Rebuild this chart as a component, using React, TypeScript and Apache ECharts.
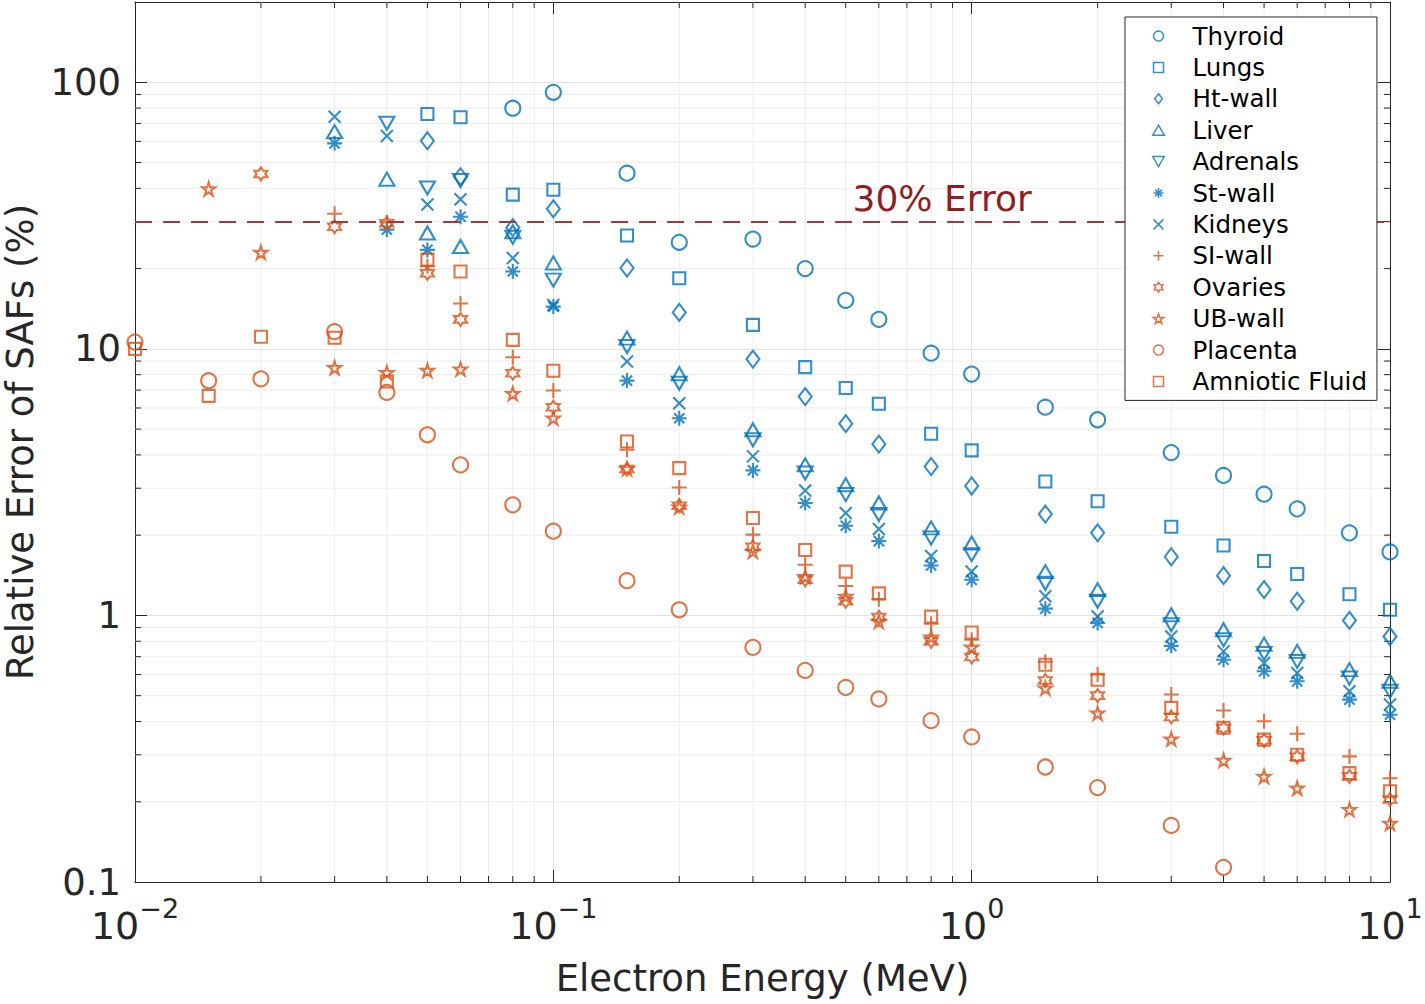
import React, { useEffect, useRef } from 'react';
import * as echarts from 'echarts';

// ---------- data ----------
const energies = [0.01, 0.015, 0.02, 0.03, 0.04, 0.05, 0.06, 0.08, 0.1, 0.15, 0.2, 0.3, 0.4, 0.5, 0.6, 0.8, 1, 1.5, 2, 3, 4, 5, 6, 8, 10];

const thyroid = [null, null, null, null, null, null, null, 79.9, 91.7, 45.6, 25.1, 25.8, 20.0, 15.2, 12.9, 9.63, 8.04, 6.04, 5.42, 4.08, 3.35, 2.85, 2.51, 2.04, 1.73];
const lungs = [null, null, null, null, null, 76.0, 73.9, 37.9, 39.5, 26.6, 18.4, 12.3, 8.54, 7.13, 6.22, 4.8, 4.16, 3.18, 2.68, 2.15, 1.83, 1.6, 1.43, 1.2, 1.05];
const htWall = [null, null, null, null, null, 60.3, 44.2, 28.5, 33.5, 20.1, 13.7, 9.15, 6.62, 5.24, 4.39, 3.62, 3.06, 2.4, 2.04, 1.66, 1.41, 1.25, 1.13, 0.958, 0.834];
const liver = [null, null, null, 65.3, 43.3, 27.2, 24.2, 27.5, 21.0, 10.97, 8.06, 4.97, 3.67, 3.09, 2.64, 2.13, 1.87, 1.46, 1.25, 1.006, 0.884, 0.78, 0.733, 0.626, 0.566];
const adrenals = [null, null, null, null, 70.2, 40.1, 42.8, 26.2, 18.1, 10.2, 7.43, 4.56, 3.42, 2.84, 2.39, 1.95, 1.69, 1.32, 1.13, 0.923, 0.81, 0.72, 0.672, 0.582, 0.519];
const stWall = [null, null, null, 59.0, 28.0, 23.5, 31.3, 19.5, 14.4, 7.6, 5.49, 3.5, 2.64, 2.17, 1.9, 1.54, 1.36, 1.06, 0.937, 0.769, 0.682, 0.617, 0.566, 0.483, 0.424];
const kidneys = [null, null, null, 74.3, 62.9, 34.8, 36.4, 21.9, 14.6, 8.96, 6.25, 3.95, 2.94, 2.42, 2.11, 1.67, 1.46, 1.18, 0.99, 0.834, 0.733, 0.663, 0.608, 0.519, 0.463];
const siWall = [null, null, null, 32.1, 29.8, 20.4, 14.8, 9.3, 6.98, 4.18, 3.02, 2.01, 1.55, 1.29, 1.15, 0.93, 0.81, 0.67, 0.6, 0.505, 0.44, 0.401, 0.36, 0.296, 0.245];
const ovaries = [null, null, 45.3, 28.7, 29.6, 19.2, 12.9, 8.1, 6.04, 3.54, 2.58, 1.81, 1.36, 1.13, 0.986, 0.8, 0.698, 0.57, 0.5, 0.416, 0.378, 0.34, 0.295, 0.249, 0.204];
const ubWall = [null, 39.8, 23.0, 8.5, 8.15, 8.3, 8.4, 6.8, 5.5, 3.55, 2.55, 1.74, 1.4, 1.18, 0.95, 0.83, 0.76, 0.534, 0.43, 0.344, 0.286, 0.249, 0.225, 0.187, 0.166];
const placenta = [10.6, 7.59, 7.72, 11.6, 6.86, 4.76, 3.67, 2.6, 2.07, 1.35, 1.05, 0.759, 0.622, 0.537, 0.486, 0.403, 0.35, 0.27, 0.226, 0.163, 0.1135, null, null, null, null];
const amniotic = [10.0, 6.66, 11.1, 11.0, 7.54, 21.6, 19.5, 10.8, 8.27, 4.49, 3.57, 2.32, 1.76, 1.46, 1.21, 0.99, 0.863, 0.653, 0.574, 0.45, 0.379, 0.342, 0.3, 0.256, 0.219];

const errorThreshold = 30;
const errorLabel = '30% Error';
const errorLabelEnergy = 0.85;

const yMinorTicks = [0.2, 0.3, 0.4, 0.5, 0.6, 0.7, 0.8, 0.9, 2, 3, 4, 5, 6, 7, 8, 9, 20, 30, 40, 50, 60, 70, 80, 90];
const xMinorTicks = [0.02, 0.03, 0.04, 0.05, 0.06, 0.07, 0.08, 0.09, 0.2, 0.3, 0.4, 0.5, 0.6, 0.7, 0.8, 0.9, 2, 3, 4, 5, 6, 7, 8, 9];

// ---------- styles ----------
const BLUE = '#0072BD';
const ORANGE = '#D95319';
const INK = '#262626';
const FONT = '"DejaVu Sans", sans-serif';

function starPath(n: number, rOuter: number, rInner: number) {
  const pts: string[] = [];
  for (let i = 0; i < 2 * n; i++) {
    const r = i % 2 === 0 ? rOuter : rInner;
    const a = -Math.PI / 2 + (i * Math.PI) / n;
    pts.push(`${(r * Math.cos(a) + rOuter).toFixed(3)},${(r * Math.sin(a) + rOuter).toFixed(3)}`);
  }
  return 'path://M' + pts.join('L') + 'Z';
}

const SYM = {
  square: 'path://M0,0L10,0L10,10L0,10Z',
  diamond: 'path://M5,0L10,6.5L5,13L0,6.5Z',
  triUp: 'path://M5,0L10,8.66L0,8.66Z',
  triDown: 'path://M0,0L10,0L5,8.66Z',
  asterisk: 'path://M5,0L5,10M0,5L10,5M1.6,1.6L8.4,8.4M8.4,1.6L1.6,8.4',
  cross: 'path://M0,0L10,10M10,0L0,10',
  plus: 'path://M5,0L5,10M0,5L10,5',
  hexagram: starPath(6, 5, 5 / Math.sqrt(3)),
  pentagram: starPath(5, 5, 5 * 0.382),
};

const seriesDefs = [
  { name: 'Thyroid', values: thyroid, color: BLUE, symbol: 'circle', size: 15 },
  { name: 'Lungs', values: lungs, color: BLUE, symbol: SYM.square, size: 12 },
  { name: 'Ht-wall', values: htWall, color: BLUE, symbol: SYM.diamond, size: [13, 17] },
  { name: 'Liver', values: liver, color: BLUE, symbol: SYM.triUp, size: [15, 13] },
  { name: 'Adrenals', values: adrenals, color: BLUE, symbol: SYM.triDown, size: [15, 13] },
  { name: 'St-wall', values: stWall, color: BLUE, symbol: SYM.asterisk, size: 15 },
  { name: 'Kidneys', values: kidneys, color: BLUE, symbol: SYM.cross, size: 12 },
  { name: 'SI-wall', values: siWall, color: ORANGE, symbol: SYM.plus, size: 15 },
  { name: 'Ovaries', values: ovaries, color: ORANGE, symbol: SYM.hexagram, size: 13 },
  { name: 'UB-wall', values: ubWall, color: ORANGE, symbol: SYM.pentagram, size: 13 },
  { name: 'Placenta', values: placenta, color: ORANGE, symbol: 'circle', size: 15 },
  { name: 'Amniotic Fluid', values: amniotic, color: ORANGE, symbol: SYM.square, size: 12 },
];

function isPow10(v: number) {
  const l = Math.log10(v);
  return Math.abs(l - Math.round(l)) < 1e-6;
}

function buildOption() {
  const scatter = seriesDefs.map((d) => ({
    type: 'scatter',
    name: d.name,
    data: energies.map((e, i) => [e, d.values[i]]).filter((p) => p[1] != null),
    symbol: d.symbol,
    symbolSize: d.size,
    itemStyle: { color: 'rgba(0,0,0,0)', borderColor: d.color, borderWidth: 2.1 },
    emphasis: { disabled: true },
    z: 4,
  }));

  const minorY = {
    type: 'custom',
    silent: true,
    clip: false,
    z: 1,
    data: yMinorTicks.map((v) => [1, v]),
    renderItem: (params: any, api: any) => {
      const cs = params.coordSys;
      const y = api.coord([1, api.value(1)])[1];
      return {
        type: 'group',
        children: [
          { type: 'line', shape: { x1: cs.x, y1: y, x2: cs.x + cs.width, y2: y }, style: { stroke: '#ededed', lineWidth: 1 } },
          { type: 'line', shape: { x1: cs.x, y1: y, x2: cs.x + 6, y2: y }, style: { stroke: INK, lineWidth: 1 } },
          { type: 'line', shape: { x1: cs.x + cs.width - 6, y1: y, x2: cs.x + cs.width, y2: y }, style: { stroke: INK, lineWidth: 1 } },
        ],
      };
    },
  };

  const minorX = {
    type: 'custom',
    silent: true,
    clip: false,
    z: 1,
    data: xMinorTicks.map((v) => [v, 1]),
    renderItem: (params: any, api: any) => {
      const cs = params.coordSys;
      const x = api.coord([api.value(0), 1])[0];
      return {
        type: 'group',
        children: [
          { type: 'line', shape: { x1: x, y1: cs.y, x2: x, y2: cs.y + cs.height }, style: { stroke: '#ededed', lineWidth: 1 } },
          { type: 'line', shape: { x1: x, y1: cs.y + cs.height - 6, x2: x, y2: cs.y + cs.height }, style: { stroke: INK, lineWidth: 1 } },
          { type: 'line', shape: { x1: x, y1: cs.y, x2: x, y2: cs.y + 6 }, style: { stroke: INK, lineWidth: 1 } },
        ],
      };
    },
  };

  const threshold = {
    type: 'scatter',
    name: 'threshold',
    data: [],
    silent: true,
    z: 2,
    markLine: {
      silent: true,
      symbol: 'none',
      label: { show: false },
      lineStyle: { color: '#A23A3C', width: 2, type: [17, 11] },
      emphasis: { disabled: true },
      data: [{ yAxis: errorThreshold }],
    },
    markPoint: {
      silent: true,
      symbol: 'circle',
      symbolSize: 1,
      itemStyle: { color: 'rgba(0,0,0,0)' },
      label: {
        show: true,
        position: 'inside',
        offset: [0, -23],
        formatter: errorLabel,
        fontSize: 36,
        fontFamily: FONT,
        color: '#8E1F24',
      },
      data: [{ coord: [errorLabelEnergy, errorThreshold] }],
    },
  };

  const xLabel = (v: number) => {
    if (!isPow10(v)) return '';
    const e = Math.round(Math.log10(v));
    return `{b|10}{s|${e < 0 ? '\u2212' + -e : e}}`;
  };
  const yLabel = (v: number) => (isPow10(v) ? String(Number(v.toPrecision(1))) : '');

  return {
    animation: false,
    backgroundColor: '#ffffff',
    textStyle: { fontFamily: FONT },
    grid: { left: 135, right: 35, top: 2, bottom: 122, containLabel: false, outerBoundsMode: 'none' },
    legend: {
      data: seriesDefs.map((d) => d.name),
      orient: 'vertical',
      left: 1125,
      top: 17,
      z: 10,
      padding: [5, 10, 5, 27],
      itemWidth: 58,
      itemHeight: 10,
      itemGap: 3.4,
      selectedMode: false,
      backgroundColor: '#ffffff',
      borderColor: INK,
      borderWidth: 1,
      borderRadius: 0,
      itemStyle: { borderWidth: 1.5 },
      textStyle: { fontSize: 24.5, lineHeight: 28, color: '#000000', fontFamily: FONT },
    },
    xAxis: [
      {
        type: 'log',
        logBase: 10,
        min: 0.01,
        max: 10,
        name: 'Electron Energy (MeV)',
        nameLocation: 'middle',
        nameGap: 78,
        nameTextStyle: { fontSize: 37, color: INK, fontFamily: FONT },
        axisLine: { show: true, lineStyle: { color: INK, width: 1 } },
        axisTick: { show: true, inside: true, length: 12, lineStyle: { color: INK } },
        axisLabel: {
          formatter: xLabel,
          margin: 13,
          rich: {
            b: { fontSize: 38, color: INK, fontFamily: FONT, verticalAlign: 'bottom', padding: [12, 0, 0, 0] },
            s: { fontSize: 27, color: INK, fontFamily: FONT, verticalAlign: 'top' },
          },
        },
        splitLine: { show: true, lineStyle: { color: '#e2e2e2', width: 1 } },
      },
      {
        type: 'log',
        logBase: 10,
        min: 0.01,
        max: 10,
        position: 'top',
        axisLine: { show: true, lineStyle: { color: INK, width: 1 } },
        axisTick: { show: true, inside: true, length: 12, lineStyle: { color: INK } },
        axisLabel: { show: false },
        splitLine: { show: false },
      },
    ],
    yAxis: [
      {
        type: 'log',
        logBase: 10,
        min: 0.1,
        max: 200,
        name: 'Relative Error of SAFs (%)',
        nameLocation: 'middle',
        nameRotate: 90,
        nameGap: 96,
        nameTextStyle: { fontSize: 37, color: INK, fontFamily: FONT },
        axisLine: { show: true, lineStyle: { color: INK, width: 1 } },
        axisTick: { show: true, inside: true, length: 12, lineStyle: { color: INK } },
        axisLabel: { formatter: yLabel, fontSize: 37, color: INK, fontFamily: FONT, margin: 14 },
        splitLine: { show: true, lineStyle: { color: '#e2e2e2', width: 1 } },
      },
      {
        type: 'log',
        logBase: 10,
        min: 0.1,
        max: 200,
        position: 'right',
        axisLine: { show: true, lineStyle: { color: INK, width: 1 } },
        axisTick: { show: true, inside: true, length: 12, lineStyle: { color: INK } },
        axisLabel: { show: false },
        splitLine: { show: false },
      },
    ],
    series: [minorY, minorX, threshold, ...scatter],
  };
}

export default function App() {
  const ref = useRef<HTMLDivElement>(null);
  useEffect(() => {
    document.body.style.margin = '0';
    if (!ref.current) return;
    const chart = echarts.init(ref.current, undefined, { renderer: 'svg' });
    chart.setOption(buildOption() as any);
    return () => chart.dispose();
  }, []);
  return <div ref={ref} style={{ width: 1425, height: 1004 }} />;
}
